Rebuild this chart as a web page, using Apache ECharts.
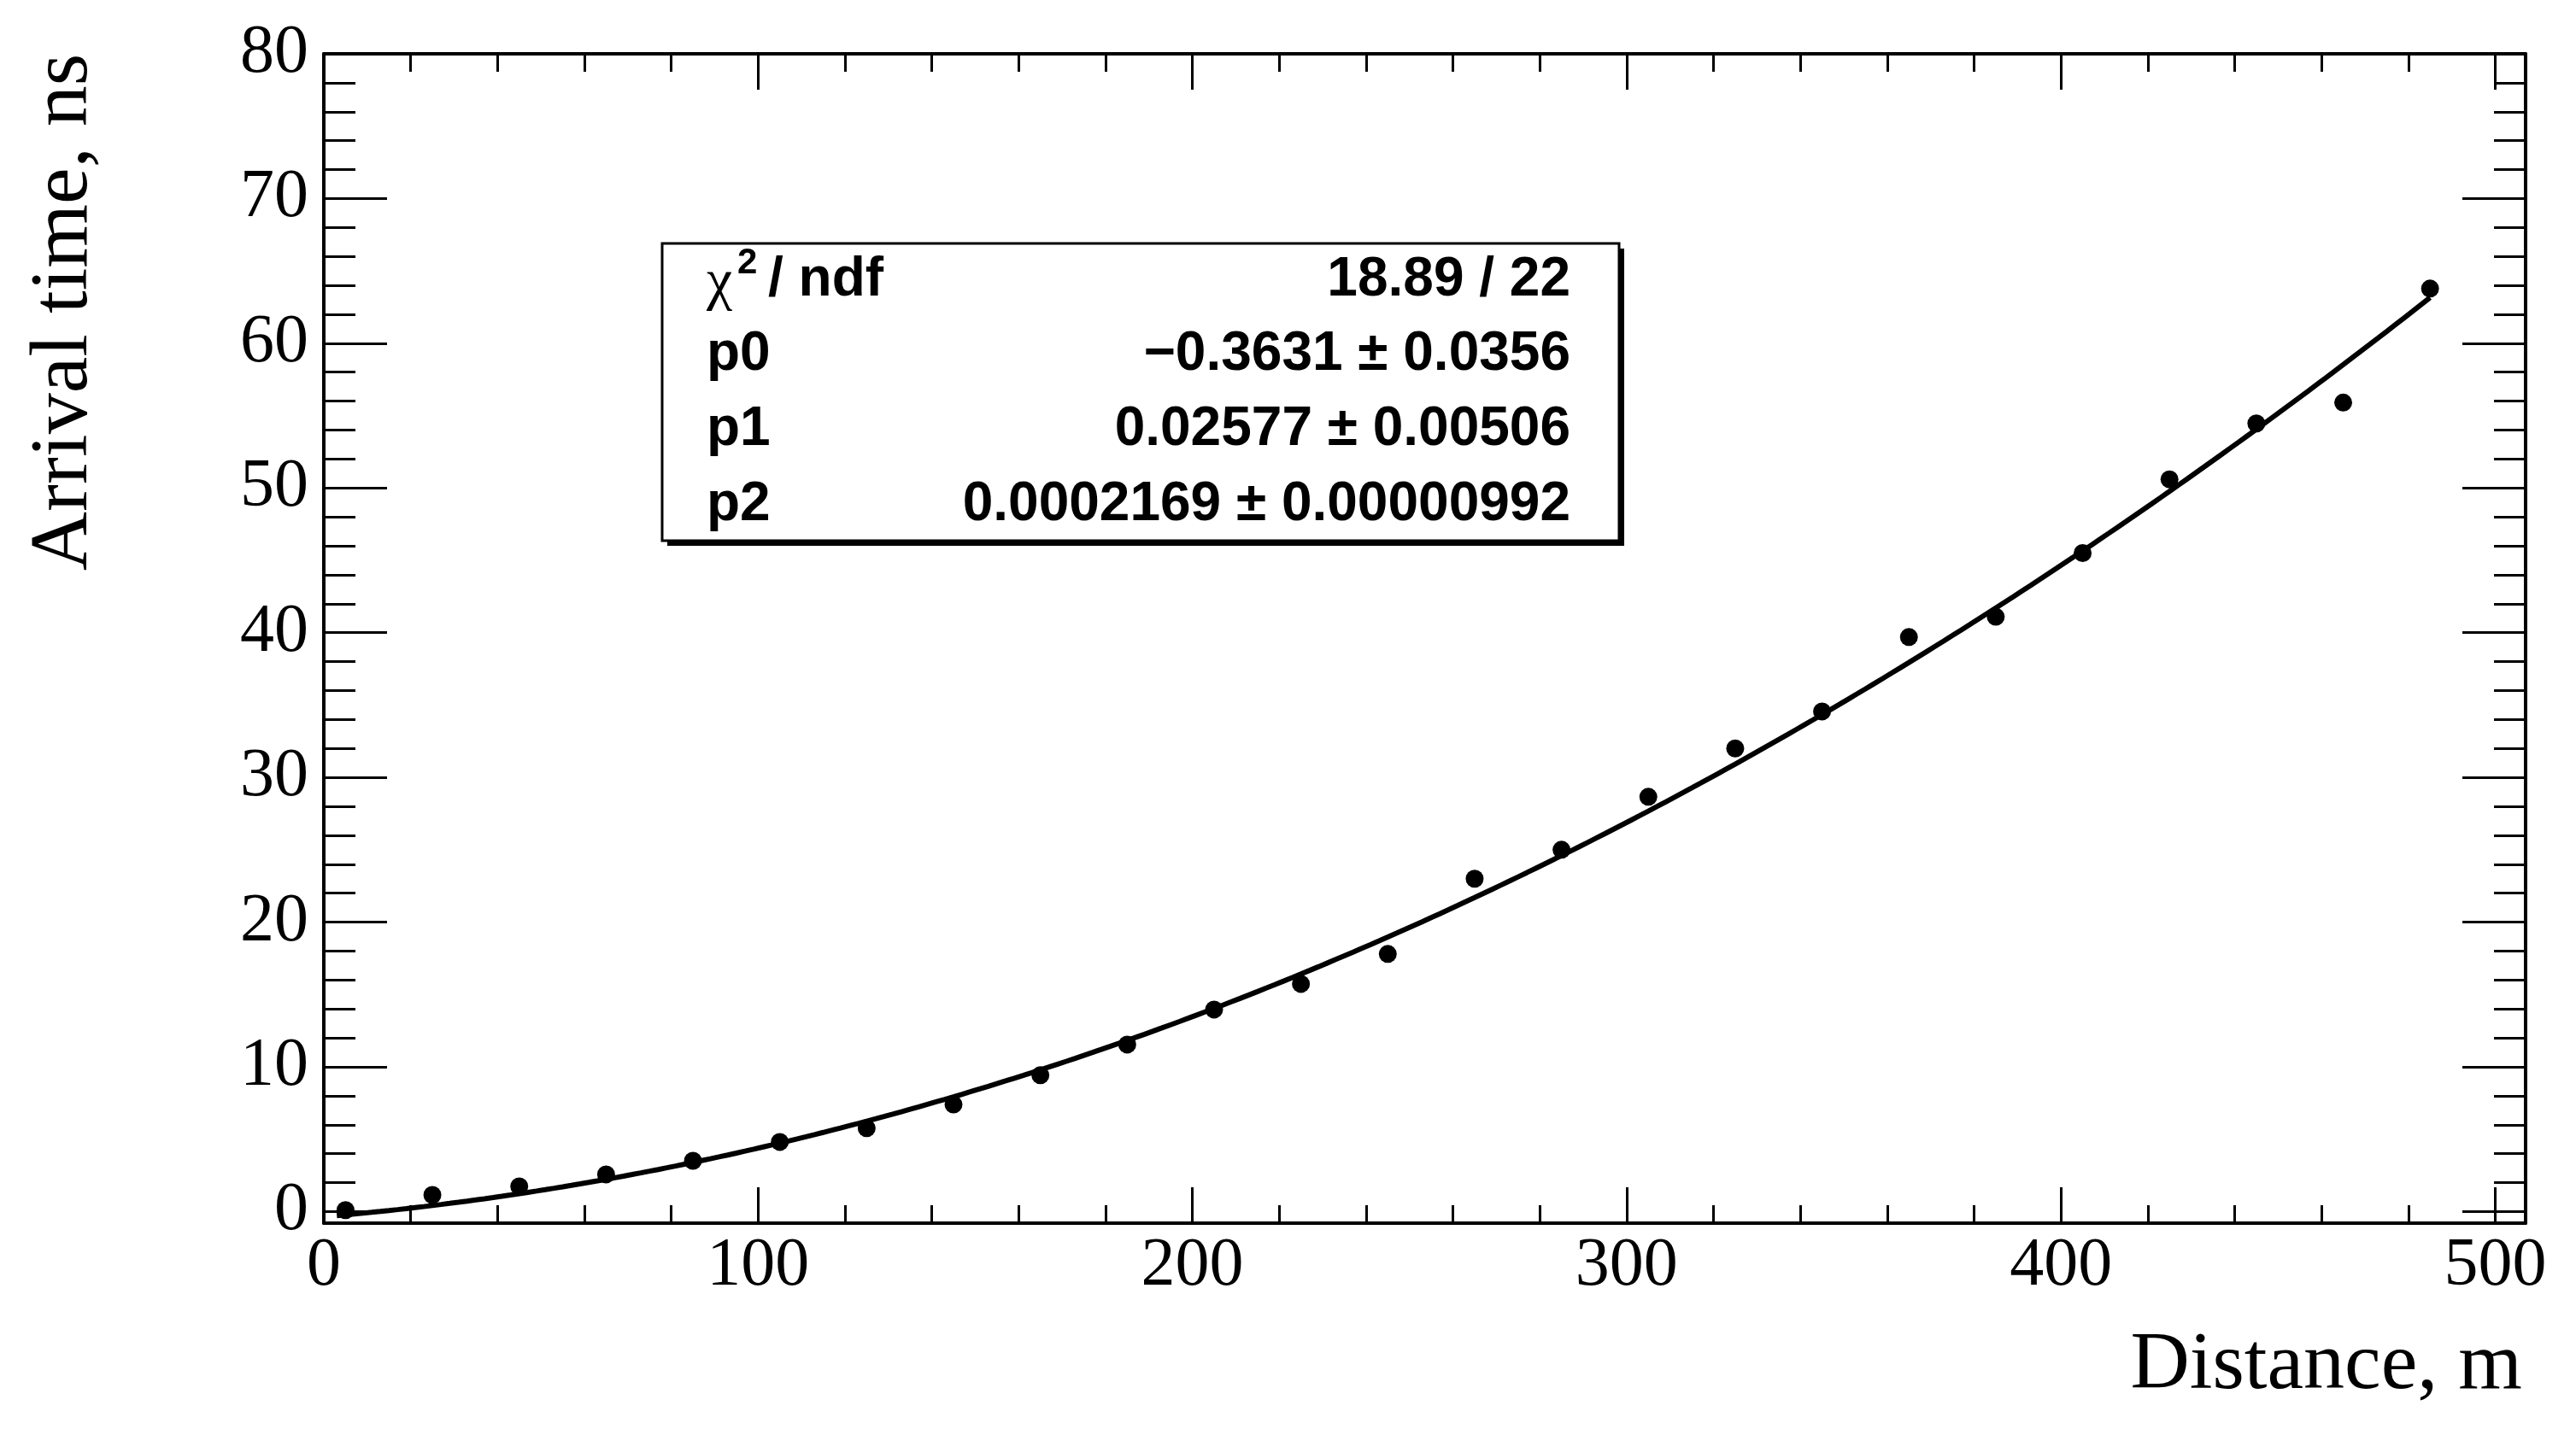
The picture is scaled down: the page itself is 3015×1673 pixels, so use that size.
<!DOCTYPE html>
<html>
<head>
<meta charset="utf-8">
<script src="https://cdn.jsdelivr.net/npm/echarts@6/dist/echarts.min.js"></script>
<style>
html,body{margin:0;padding:0;background:#ffffff;}
#chart{width:3015px;height:1673px;}
</style>
</head>
<body>
<div id="chart"></div>
<script>
// ---- data ----
const distances = [5,25,45,65,85,105,125,145,165,185,205,225,245,265,285,305,325,345,365,385,405,425,445,465,485];
const arrivalTimes = [0.1,1.15,1.74,2.57,3.51,4.81,5.76,7.4,9.42,11.54,13.96,15.73,17.8,23.0,25.0,28.66,32.0,34.56,39.7,41.1,45.5,50.6,54.46,55.9,63.78];
// fitted pol2 parameters printed in the stats box: p0 + p1*x + p2*x^2
const fitParams = [-0.3631, 0.02577, 0.0002169];
const fitRange = [3, 485];
const xMajorTicks = [0,100,200,300,400,500];
const yMajorTicks = [0,10,20,30,40,50,60,70,80];
const xMinorStep = 20;
const yMinorStep = 2;
const statsLabels = ['p0','p1','p2'];
const statsValues = ['18.89 / 22','\u22120.3631 \u00b1 0.0356','0.02577 \u00b1 0.00506','0.0002169 \u00b1 0.00000992'];
const xTitle = 'Distance, m';
const yTitle = 'Arrival time, ns';

// ---- build ----
const X_MIN = 0, X_MAX = 507, Y_MIN = -0.8, Y_MAX = 80;
function minorOf(majors, step){
  const out = [];
  for (let i = 0; i < majors.length - 1; i++) {
    for (let v = majors[i] + step; v < majors[i+1] - 1e-9; v += step) out.push(+v.toFixed(6));
  }
  return out;
}
const xMinorTicks = minorOf(xMajorTicks, xMinorStep);
const yMinorTicks = minorOf(yMajorTicks, yMinorStep);

const points = distances.map((d, i) => [d, arrivalTimes[i]]);
const fitCurve = [];
for (let x = fitRange[0]; x <= fitRange[1] + 1e-9; x += 2) {
  fitCurve.push([x, fitParams[0] + fitParams[1]*x + fitParams[2]*x*x]);
}

const SERIF = '"Liberation Serif","Times New Roman",serif';
const SANS = '"Liberation Sans",Arial,Helvetica,sans-serif';
const AXW = 4, TKW = 3;

function xAx(pos, vals, len, withLine, withLabels){
  return {
    type:'value', gridIndex:0, min:X_MIN, max:X_MAX, position:pos,
    axisLine:{show:withLine, onZero:false, lineStyle:{color:'#000', width:AXW}},
    axisTick:{show:true, inside:true, length:len, customValues:vals, lineStyle:{color:'#000', width:TKW}},
    axisLabel: withLabels ? {show:true, customValues:vals, margin:11, color:'#000', fontFamily:SERIF, fontSize:80} : {show:false},
    splitLine:{show:false}, minorTick:{show:false}, minorSplitLine:{show:false}
  };
}
function yAx(pos, vals, len, withLine, withLabels){
  return {
    type:'value', gridIndex:0, min:Y_MIN, max:Y_MAX, position:pos,
    axisLine:{show:withLine, onZero:false, lineStyle:{color:'#000', width:AXW}},
    axisTick:{show:true, inside:true, length:len, customValues:vals, lineStyle:{color:'#000', width:TKW}},
    axisLabel: withLabels ? {show:true, customValues:vals, margin:18, color:'#000', fontFamily:SERIF, fontSize:80} : {show:false},
    splitLine:{show:false}, minorTick:{show:false}, minorSplitLine:{show:false}
  };
}

const BOX = {x:775, y:285, w:1120, h:348};
const rowY = [328, 415, 503, 591];
const labelX = 827, valueX = 1838;
const TS = {fill:'#000', textVerticalAlign:'middle', verticalAlign:'middle'};

const graphics = [
  // stats box shadow + box
  {type:'rect', z:100, shape:{x:BOX.x+6, y:BOX.y+6, width:BOX.w, height:BOX.h}, style:{fill:'#000'}},
  {type:'rect', z:101, shape:{x:BOX.x, y:BOX.y, width:BOX.w, height:BOX.h}, style:{fill:'#fff', stroke:'#000', lineWidth:3}},
  // chi^2 / ndf label
  {type:'text', z:102, x:labelX, y:rowY[0]+4, style:Object.assign({text:'\u03c7', font:'68px '+SERIF, textAlign:'left', align:'left'}, TS)},
  {type:'text', z:102, x:labelX+36, y:rowY[0]-20, style:Object.assign({text:'2', font:'bold 42px '+SANS, textAlign:'left', align:'left'}, TS)},
  {type:'text', z:102, x:labelX+72, y:rowY[0], style:Object.assign({text:'/ ndf', font:'bold 64px '+SANS, textAlign:'left', align:'left'}, TS)}
];
statsLabels.forEach((t, i) => {
  graphics.push({type:'text', z:102, x:labelX, y:rowY[i+1], style:Object.assign({text:t, font:'bold 64px '+SANS, textAlign:'left', align:'left'}, TS)});
});
statsValues.forEach((t, i) => {
  graphics.push({type:'text', z:102, x:valueX, y:rowY[i], style:Object.assign({text:t, font:'bold 64px '+SANS, textAlign:'right', align:'right'}, TS)});
});
// axis titles
graphics.push({type:'text', z:50, x:2952, y:1600, style:Object.assign({text:xTitle, font:'96px '+SERIF, textAlign:'right', align:'right'}, TS)});
graphics.push({type:'text', z:50, x:76, y:63, rotation:Math.PI/2, style:Object.assign({text:yTitle, font:'96px '+SERIF, textAlign:'right', align:'right'}, TS)});

const option = {
  animation:false,
  backgroundColor:'#ffffff',
  grid:{left:379, right:59, top:63, bottom:241, containLabel:false, outerBoundsMode:'none', show:false},
  xAxis:[
    xAx('bottom', xMajorTicks, 42, true, true),
    xAx('bottom', xMinorTicks, 21, false, false),
    xAx('top', xMajorTicks, 42, true, false),
    xAx('top', xMinorTicks, 21, false, false)
  ],
  yAxis:[
    yAx('left', yMajorTicks, 74, true, true),
    yAx('left', yMinorTicks, 37, false, false),
    yAx('right', yMajorTicks, 74, true, false),
    yAx('right', yMinorTicks, 37, false, false)
  ],
  series:[
    {type:'line', name:'fit', xAxisIndex:0, yAxisIndex:0, data:fitCurve, showSymbol:false, symbol:'none', smooth:false,
     lineStyle:{color:'#000', width:6, opacity:1}, z:3, silent:true},
    {type:'scatter', name:'data', xAxisIndex:0, yAxisIndex:0, data:points, symbol:'circle', symbolSize:21,
     itemStyle:{color:'#000', opacity:1}, z:4, silent:true}
  ],
  graphic:graphics
};
const chart = echarts.init(document.getElementById('chart'), null, {renderer:'canvas'});
chart.setOption(option);
</script>
</body>
</html>
